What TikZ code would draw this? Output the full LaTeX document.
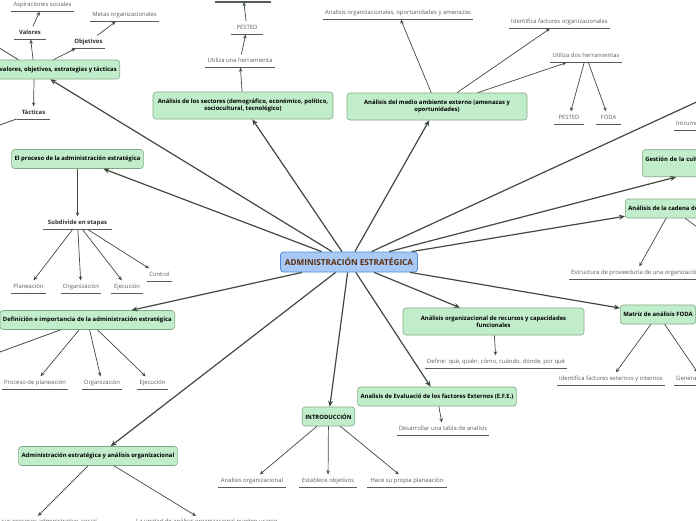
\documentclass[tikz,border=0pt]{standalone}
\usepackage{fontspec}
\setmainfont{Open Sans}
\usetikzlibrary{arrows.meta}
\definecolor{edgec}{HTML}{3E4A40}
\definecolor{ulc}{HTML}{525E54}
\definecolor{gfill}{HTML}{C2EDCB}
\definecolor{gdraw}{HTML}{7FA886}
\definecolor{bfill}{HTML}{A8C9F5}
\definecolor{bdraw}{HTML}{4F8BDB}
\definecolor{ctext}{HTML}{5A2D0C}
\definecolor{ltext}{HTML}{5E5E5E}
\definecolor{btext}{HTML}{2E2E2E}
\newcommand\lblfont{\fontsize{5.9}{7}\selectfont}
\newcommand\boxfont{\fontsize{5.9}{7.2}\selectfont\bfseries}
\tikzset{
  topic/.style={draw=gdraw, fill=gfill, line width=0.6pt, rounded corners=3pt, font=\boxfont, text=black, align=center, inner xsep=3pt, inner ysep=3pt, minimum height=19pt},
  uline/.style={draw=ulc, line width=1.4pt, -},
  lbl/.style={font=\lblfont, text=ltext, inner xsep=2pt, inner ysep=3.6pt, text height=4.3pt, text depth=1.4pt,
    append after command={(\tikzlastnode.south west) edge[uline] (\tikzlastnode.south east)}},
  blbl/.style={lbl, font=\boxfont, text=btext},
  conn/.style={draw=edgec, line width=1.2pt, -{Stealth[length=6pt,width=5pt]}},
  sub/.style={draw=edgec, line width=0.7pt, -{Stealth[length=4pt,width=3.5pt]}},
  plain/.style={draw=edgec, line width=0.8pt},
}
\begin{document}
\begin{tikzpicture}[x=1pt,y=-1pt]
\useasboundingbox (0,0) rectangle (696,520);
\clip (0,0) rectangle (696,520);

% central
\node[draw=bdraw, fill=bfill, line width=0.8pt, rounded corners=3pt, font=\fontsize{8.2}{9}\selectfont\bfseries, text=ctext, minimum width=137pt, minimum height=20pt, inner xsep=2pt] (c) at (349,262) {ADMINISTRACIÓN ESTRATÉGICA};

% topics
\node[topic, anchor=east] (t1) at (120,69.5) {\hspace*{48pt}valores, objetivos, estrategias y tácticas};
\node[topic] (t2) at (77.5,159) {El proceso de la administración estratégica};
\node[topic, anchor=east] (t3) at (175,320) {Definición e importancia de la administración estratégica};
\node[topic] (t4) at (98,456) {Administración estratégica y análisis organizacional};
\node[topic] (t5) at (328.5,416.5) {INTRODUCCIÓN};
\node[topic] (t6) at (437,396.5) {Analisis de Evaluació de los factores Externos (E.F.E.)};
\node[topic, minimum width=181pt, minimum height=27pt] (t7) at (493.5,321.5) {Análisis organizacional de recursos y capacidades\\funcionales};
\node[topic, anchor=west] (t8) at (620,314.5) {Matriz de análisis FODA};
\node[topic, anchor=west] (t9) at (625,208.5) {Análisis de la cadena de valor};
\node[topic, anchor=south west, text width=168pt, align=left, minimum height=27pt] (t10) at (642,177) {Gestión de la cultura organizacional\\\mbox{}};
\node[topic, minimum width=180pt, minimum height=27pt] (t11) at (243,105.5) {Análisis de los sectores (demográfico, económico, político,\\sociocultural, tecnológico)};
\node[topic, minimum width=180pt, minimum height=27pt] (t12) at (437,106.5) {Análisis del medio ambiente externo (amenazas y\\oportunidades)};

% labels
\node[lbl, minimum width=61pt] (aspir) at (42.5,5) {Aspiraciones sociales};
\node[blbl, minimum width=31pt] (valores) at (30,33) {Valores};
\node[blbl, minimum width=33pt] (objet) at (88.5,42) {Objetivos};
\node[lbl, minimum width=65pt] (metas) at (124.5,15) {Metas organizacionales};
\node[blbl, minimum width=33pt] (tact) at (33.5,113) {Tácticas};
\node[blbl, minimum width=69pt] (subdiv) at (77.5,223) {Subdivide en etapas};
\node[lbl, minimum width=35pt] (plan) at (28.5,287) {Planeación};
\node[lbl, minimum width=36pt] (org1) at (81,287) {Organización};
\node[lbl, minimum width=32pt] (eje1) at (127,287) {Ejecución};
\node[lbl, minimum width=23pt] (ctrl) at (159.5,275) {Control};
\node[lbl, minimum width=64pt] (proc) at (35,383) {Proceso de planeación};
\node[lbl, minimum width=40pt] (org2) at (102,383) {Organización};
\node[lbl, minimum width=31pt] (eje2) at (152.5,383) {Ejecución};
\node[lbl, anchor=east] (bl1) at (99,522.5) {\hspace*{36pt}sus procesos administrativo, social};
\node[lbl, anchor=west] (bl2) at (134,522.5) {La unidad de análisis organizacional pueden usarse};
\node[lbl, minimum width=68pt] (an1) at (252,481) {Analisis organizacional};
\node[lbl, minimum width=58pt] (estab) at (328,481) {Establece objetivos};
\node[lbl, minimum width=80pt] (hace) at (407,481) {Hace su propia planeación};
\node[lbl, minimum width=86pt] (desarr) at (443,429) {Desarrollar una tabla de analisis};
\node[lbl, minimum width=128pt] (define) at (496,362) {Define: qué, quién, cómo, cuándo, dónde, por qué};
\node[lbl, minimum width=98pt] (ident) at (611,379) {Identifica factores externos y internos};
\node[lbl, anchor=west] (gener) at (674,379) {Genera estrategias};
\node[lbl, anchor=west] (estruct) at (569,273) {Estructura de proveeduría de una organización};
\node[lbl, anchor=west] (intrum) at (674,124) {Intrumentos};
\node[lbl, minimum width=66pt] (util1) at (240,61) {Utiliza una herramienta};
\node[lbl, minimum width=32pt] (pested1) at (247,28) {PESTED};
\node[lbl, minimum width=56pt] (top1) at (243,-4.5) {};
\node[lbl, minimum width=137pt] (anal) at (398,13) {Analisis organizacionales, oportunidades y amenazas};
\node[lbl, minimum width=93pt] (identf) at (559.5,22) {Identifica factores organizacionales};
\node[lbl, minimum width=66pt] (util2) at (586,56) {Utiliza dos herramientas};
\node[lbl, minimum width=30pt] (pested2) at (569,118) {PESTED};
\node[lbl, minimum width=25pt] (foda) at (608.5,118) {FODA};

% off-canvas ends
\coordinate (offA) at (-20,36);
\coordinate (offB) at (-20,132);
\coordinate (offC) at (-30,363);
\coordinate (offD) at (740,82);
\coordinate (offE) at (715,240);

% main connectors
\draw[conn] (c) -- (t1);
\draw[conn] (c) -- (t2);
\draw[conn] (c) -- (t3);
\draw[conn] (c) -- (t4);
\draw[conn] (c) -- (t5);
\draw[conn] (c) -- (t6);
\draw[conn] (c) -- (t7);
\draw[conn] (c) -- (t8);
\draw[conn] (c) -- (t9);
\draw[conn] (c) -- (t10);
\draw[conn] (c) -- (t11);
\draw[conn] (c) -- (t12);
\draw[conn] (c) -- (offD);

% sub connectors
\draw[plain] (t1) -- (offA);
\draw[sub] (t1) -- (valores);
\draw[sub] (t1) -- (objet);
\draw[sub] (t1) -- (tact);
\draw[sub] (valores) -- (aspir);
\draw[sub] (objet) -- (metas);
\draw[plain] (tact) -- (offB);
\draw[sub] (t2) -- (subdiv);
\draw[sub] (subdiv) -- (plan);
\draw[sub] (subdiv) -- (org1);
\draw[sub] (subdiv) -- (eje1);
\draw[sub] (subdiv) -- (ctrl);
\draw[plain] (t3) -- (offC);
\draw[sub] (t3) -- (proc);
\draw[sub] (t3) -- (org2);
\draw[sub] (t3) -- (eje2);
\draw[sub] (t4) -- (bl1);
\draw[sub] (t4) -- (bl2);
\draw[sub] (t5) -- (an1);
\draw[sub] (t5) -- (estab);
\draw[sub] (t5) -- (hace);
\draw[sub] (t6) -- (desarr);
\draw[sub] (t7) -- (define);
\draw[sub] (t8) -- (ident);
\draw[sub] (t8) -- (gener);
\draw[sub] (t9) -- (estruct);
\draw[sub] (t9) -- (offE);
\draw[sub] (t11) -- (util1);
\draw[sub] (util1) -- (pested1);
\draw[sub] (pested1) -- (top1);
\draw[sub] (t12) -- (anal);
\draw[sub] (t12) -- (identf);
\draw[sub] (t12) -- (util2);
\draw[sub] (util2) -- (pested2);
\draw[sub] (util2) -- (foda);
\end{tikzpicture}
\end{document}
